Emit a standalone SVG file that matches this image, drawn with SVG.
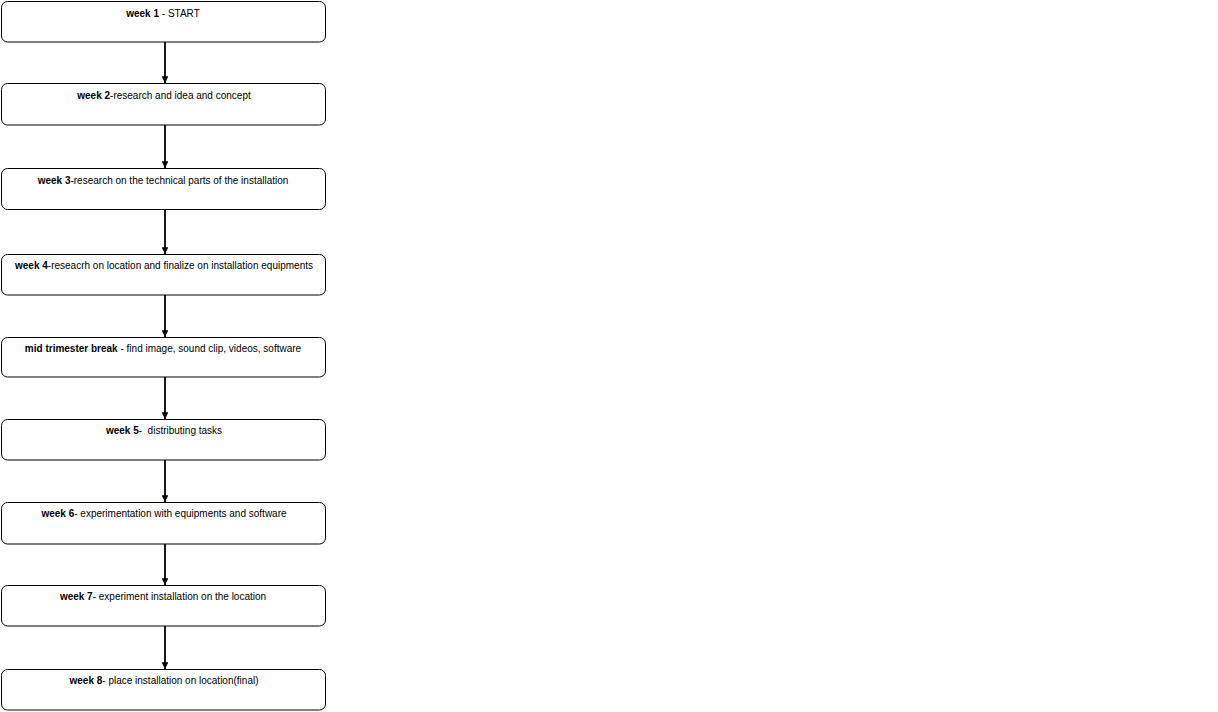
<svg xmlns="http://www.w3.org/2000/svg" width="1218" height="712" viewBox="0 0 1218 712">
<style>
.box{fill:#fff;stroke:#000;stroke-width:1}
.t{font-family:"Liberation Sans",Arial,sans-serif;font-size:10px;fill:#000;text-anchor:middle}
.b{font-weight:bold}
.c{stroke:#000;stroke-width:1.8;fill:none}
</style>
<defs>
<marker id="ah" viewBox="0 0 10 10" refX="10" refY="5" markerWidth="3.8" markerHeight="3.8" orient="auto" markerUnits="strokeWidth">
<path d="M0,0 L10,5 L0,10 z" fill="#000"/>
</marker>
</defs>
<rect width="1218" height="712" fill="#fff"/>
<g id="connectors">
<line class="c" x1="165" y1="42" x2="165" y2="83" marker-end="url(#ah)"/>
<line class="c" x1="165" y1="125" x2="165" y2="168" marker-end="url(#ah)"/>
<line class="c" x1="165" y1="210" x2="165" y2="254" marker-end="url(#ah)"/>
<line class="c" x1="165" y1="295" x2="165" y2="337" marker-end="url(#ah)"/>
<line class="c" x1="165" y1="377" x2="165" y2="419" marker-end="url(#ah)"/>
<line class="c" x1="165" y1="460" x2="165" y2="502" marker-end="url(#ah)"/>
<line class="c" x1="165" y1="544" x2="165" y2="585" marker-end="url(#ah)"/>
<line class="c" x1="165" y1="626" x2="165" y2="669" marker-end="url(#ah)"/>
</g>
<g id="n1"><rect class="box" x="1.5" y="1.5" width="324" height="40.5" rx="6"/><text class="t" x="163" y="17"><tspan class="b">week 1</tspan> - START</text></g>
<g id="n2"><rect class="box" x="1.5" y="83.5" width="324" height="41.5" rx="6"/><text class="t" x="164" y="99"><tspan class="b">week 2</tspan>-research and idea and concept</text></g>
<g id="n3"><rect class="box" x="1.5" y="168.5" width="324" height="41" rx="6"/><text class="t" x="163" y="184"><tspan class="b">week 3</tspan>-research on the technical parts of the installation</text></g>
<g id="n4"><rect class="box" x="1.5" y="254.5" width="324" height="40.5" rx="6"/><text class="t" x="164" y="269"><tspan class="b">week 4</tspan>-reseacrh on location and finalize on installation equipments</text></g>
<g id="n5"><rect class="box" x="1.5" y="337.5" width="324" height="39.5" rx="6"/><text class="t" x="163" y="352"><tspan class="b">mid trimester break</tspan> - find image, sound clip, videos, software</text></g>
<g id="n6"><rect class="box" x="1.5" y="419.5" width="324" height="40.5" rx="6"/><text class="t" x="164" y="434" xml:space="preserve"><tspan class="b">week 5</tspan>-  distributing tasks</text></g>
<g id="n7"><rect class="box" x="1.5" y="502.5" width="324" height="41.5" rx="6"/><text class="t" x="164" y="517"><tspan class="b">week 6</tspan>- experimentation with equipments and software</text></g>
<g id="n8"><rect class="box" x="1.5" y="585.5" width="324" height="40.5" rx="6"/><text class="t" x="163" y="600"><tspan class="b">week 7</tspan>- experiment installation on the location</text></g>
<g id="n9"><rect class="box" x="1.5" y="669.5" width="324" height="40.5" rx="6"/><text class="t" x="164" y="684"><tspan class="b">week 8</tspan>- place installation on location(final)</text></g>
</svg>
